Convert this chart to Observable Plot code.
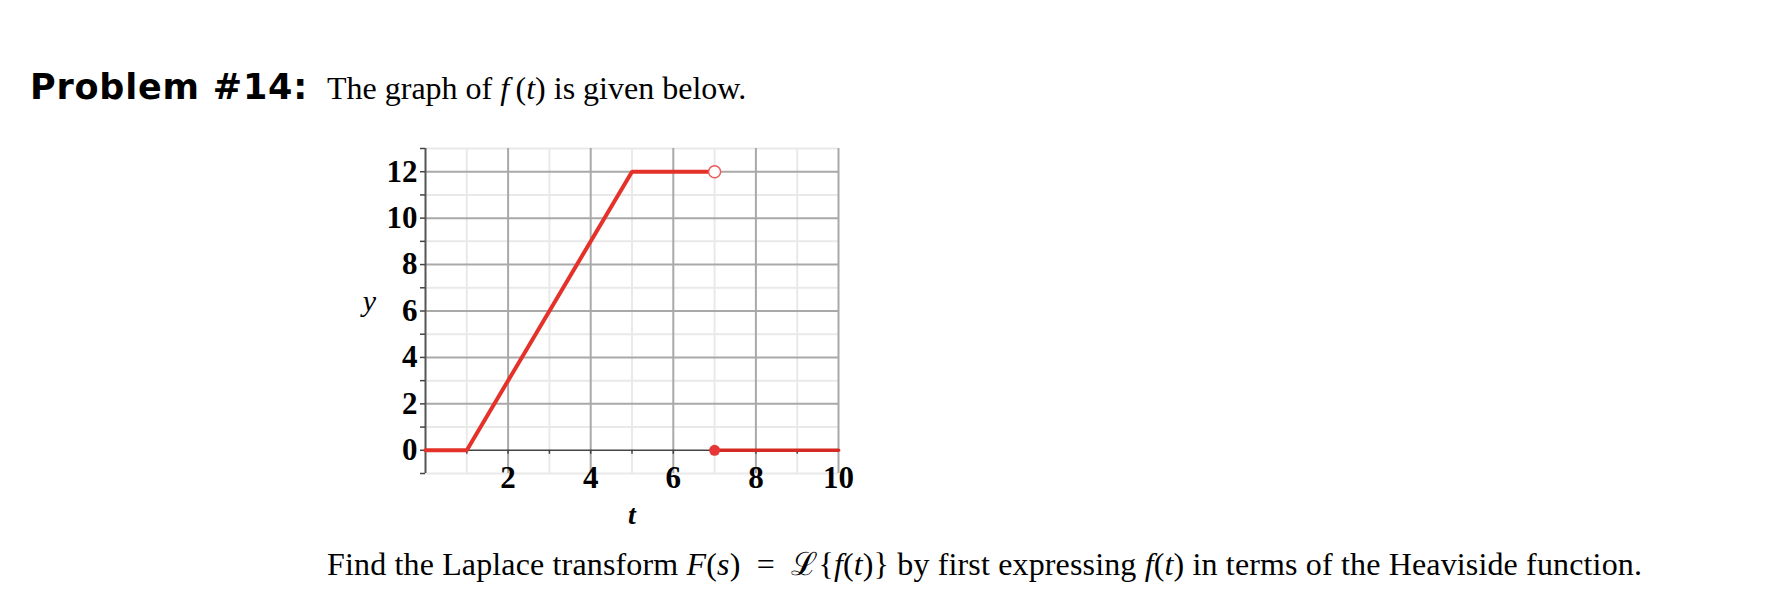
<!DOCTYPE html>
<html>
<head>
<meta charset="utf-8">
<script src="https://cdn.jsdelivr.net/npm/d3@7"></script>
<script src="https://cdn.jsdelivr.net/npm/@observablehq/plot@0.6"></script>
<style>
  html, body { margin: 0; padding: 0; background: #fff; width: 1776px; height: 611px; overflow: hidden; }
  .abs { position: absolute; white-space: nowrap; color: #000; }
  #prob { left: 30px; top: 70px; font-family: "DejaVu Sans"; font-weight: bold; font-size: 35px; line-height: 35px; letter-spacing: 0.8px; }
  #sub { left: 327px; top: 72px; font-family: "Liberation Serif"; font-size: 32px; line-height: 32px; }
  #cap { left: 327px; top: 548px; font-family: "Liberation Serif"; font-size: 32px; line-height: 32px; letter-spacing: 0.15px; }
  #chart { position: absolute; left: 330px; top: 120px; }
  i { font-style: italic; }
</style>
</head>
<body>
<div class="abs" id="prob">Problem #14:</div>
<div class="abs" id="sub">The graph of <i>f</i>&#8201;(<i>t</i>) is given below.</div>
<div id="chart"></div>
<div class="abs" id="cap">Find the Laplace transform <i>F</i>(<i>s</i>) &nbsp;=&nbsp; ℒ{<i>f</i>(<i>t</i>)} by first expressing <i>f</i>(<i>t</i>) in terms of the Heaviside function.</div>
<script>
// ---- data ----
const rampT = [0, 1, 5, 7];
const rampY = [0, 0, 12, 12];
const tailT = [7, 10];
const tailY = [0, 0];
const openT = [7];
const openY = [12];
const closedT = [7];
const closedY = [0];
const xMajor = [2, 4, 6, 8, 10];
const xMinor = [1, 3, 5, 7, 9];
const yMajor = [2, 4, 6, 8, 10, 12];
const yMinor = [-1, 1, 3, 5, 7, 9, 11, 13];
const xTickLabels = [2, 4, 6, 8, 10];
const yTickLabels = [0, 2, 4, 6, 8, 10, 12];
const yTicksAll = [-1, 0, 1, 2, 3, 4, 5, 6, 7, 8, 9, 10, 11, 12, 13];
const xTicksAll = [1, 2, 3, 4, 5, 6, 7, 8, 9];

const zip = (a, b) => a.map((v, i) => ({t: v, y: b[i]}));
const red = "#e4322a";
const serif = "Liberation Serif";

const chart = Plot.plot({
  width: 540,
  height: 420,
  marginLeft: 95,
  marginRight: 32,
  marginTop: 28,
  marginBottom: 67,
  x: {domain: [0, 10]},
  y: {domain: [-1, 13]},
  style: {background: "transparent", overflow: "visible"},
  marks: [
    Plot.ruleX(xMinor, {stroke: "#e9e9e9", strokeWidth: 2}),
    Plot.ruleY(yMinor, {stroke: "#e9e9e9", strokeWidth: 2}),
    Plot.ruleX(xMajor, {stroke: "#a9a9a9", strokeWidth: 2}),
    Plot.ruleY(yMajor, {stroke: "#a9a9a9", strokeWidth: 2}),
    // y-axis line and x-axis line
    Plot.ruleX([0], {stroke: "#555", strokeWidth: 2}),
    Plot.ruleY([0], {stroke: "#444", strokeWidth: 1.5}),
    // tick marks
    Plot.ruleY(yTicksAll, {x1: 0, x2: 0, insetLeft: -5, stroke: "#444", strokeWidth: 1.5}),
    Plot.ruleX(xTicksAll, {y1: 0, y2: 0, insetBottom: -4, stroke: "#444", strokeWidth: 1.5}),
    // tick labels
    Plot.axisY(yTickLabels, {anchor: "left", label: null, tickSize: 0, tickPadding: 8, fontSize: 31, fontWeight: "bold", fontFamily: serif, fill: "#000"}),
    Plot.axisX(xTickLabels, {anchor: "bottom", label: null, tickSize: 0, tickPadding: -8, fontSize: 31, fontWeight: "bold", fontFamily: serif, fill: "#000"}),
    // axis labels
    Plot.text(["y"], {frameAnchor: "left", dx: -56, dy: -10, text: d => d, fontSize: 30, fontStyle: "italic", fontFamily: serif, fill: "#000", textAnchor: "middle"}),
    Plot.text(["t"], {frameAnchor: "bottom", dy: 50, text: d => d, fontSize: 28, fontStyle: "italic", fontWeight: "bold", fontFamily: serif, fill: "#000", textAnchor: "middle"}),
    // function
    Plot.line(zip(rampT, rampY), {x: "t", y: "y", stroke: red, strokeWidth: 4, strokeLinejoin: "miter"}),
    Plot.line(zip(tailT, tailY), {x: "t", y: "y", stroke: "#d42a22", strokeWidth: 3.5}),
    Plot.dot(zip(openT, openY), {x: "t", y: "y", r: 6, fill: "#fff", stroke: "#ee5a5a", strokeWidth: 1.5}),
    Plot.dot(zip(closedT, closedY), {x: "t", y: "y", r: 5.5, fill: "#e63636", stroke: "none"})
  ]
});
document.getElementById("chart").appendChild(chart);
</script>
</body>
</html>
